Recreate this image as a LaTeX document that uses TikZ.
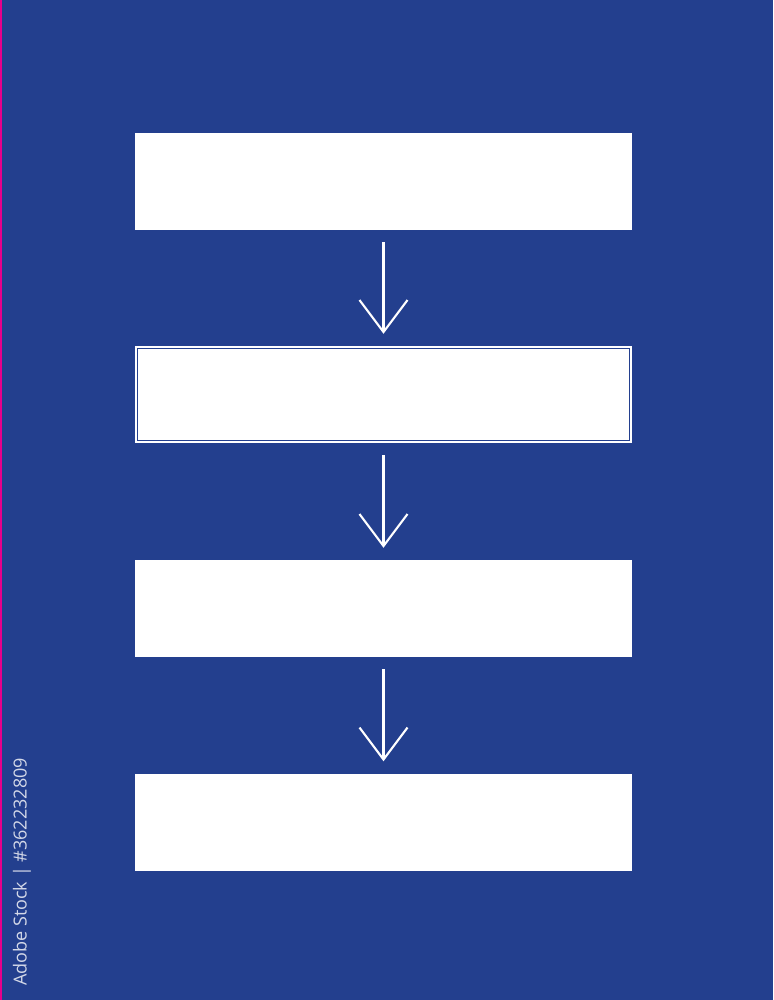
\documentclass[tikz,border=0pt]{standalone}
\usepackage{fontspec}
\newfontfamily\stockfont{Open Sans}
\usepackage{xcolor}
\usetikzlibrary{arrows.meta}

\definecolor{bgblue}{RGB}{35,63,142}
\definecolor{edgepink}{RGB}{230,0,140}

\begin{document}
\begin{tikzpicture}[x=1pt,y=-1pt,
		stepbox/.style={fill=white,draw=none,minimum width=497pt,minimum height=97pt,inner sep=0pt},
		flow/.style={white,line width=2.1pt,shorten <=12pt,shorten >=12pt,-{Straight Barb[length=32pt,width=48pt,line width=2.1pt]}}]
			\useasboundingbox (0,0) rectangle (773,1000);
			\fill[bgblue] (0,0) rectangle (773,1000);
			\fill[edgepink] (0,0) rectangle (1.5,1000);
			
			\node[stepbox] (box1) at (383.5,181.5) {};
			\node[stepbox] (box2) at (383.5,394.5) {};
			\node[stepbox] (box3) at (383.5,608.5) {};
			\node[stepbox] (box4) at (383.5,822) {};
			
			% inner frame of the second box
			\draw[bgblue,line width=1.2pt] ([shift={(3,3)}]box2.north west) rectangle ([shift={(-3,-3)}]box2.south east);
			
			\foreach \a/\b in {box1/box2,box2/box3,box3/box4} {
				\draw[flow] (\a) -- (\b);
			}
			
			\node[rotate=90,text=white!80!bgblue,font=\stockfont\fontsize{18}{20}\selectfont] (stockid) at (22,872) {Adobe Stock | \#362232809};
		\end{tikzpicture}
\end{document}
